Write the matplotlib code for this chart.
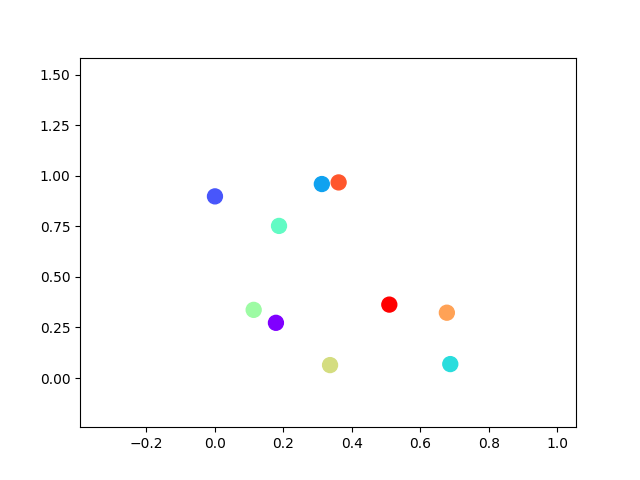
import numpy as np
import matplotlib
matplotlib.use("Agg")
import matplotlib.pyplot as plt

x = [0.179, 0.001, 0.313, 0.688, 0.188, 0.114, 0.337, 0.678, 0.362, 0.510]
y = [0.273, 0.898, 0.959, 0.069, 0.752, 0.337, 0.064, 0.323, 0.967, 0.363]
colors = np.arange(len(x))

fig, ax = plt.subplots(figsize=(6.4, 4.8), dpi=100)
ax.scatter(x, y, c=colors, cmap='rainbow', s=115)
ax.set_xlim(-0.393, 1.055)
ax.set_ylim(-0.243, 1.584)
fig.savefig('out.png')
